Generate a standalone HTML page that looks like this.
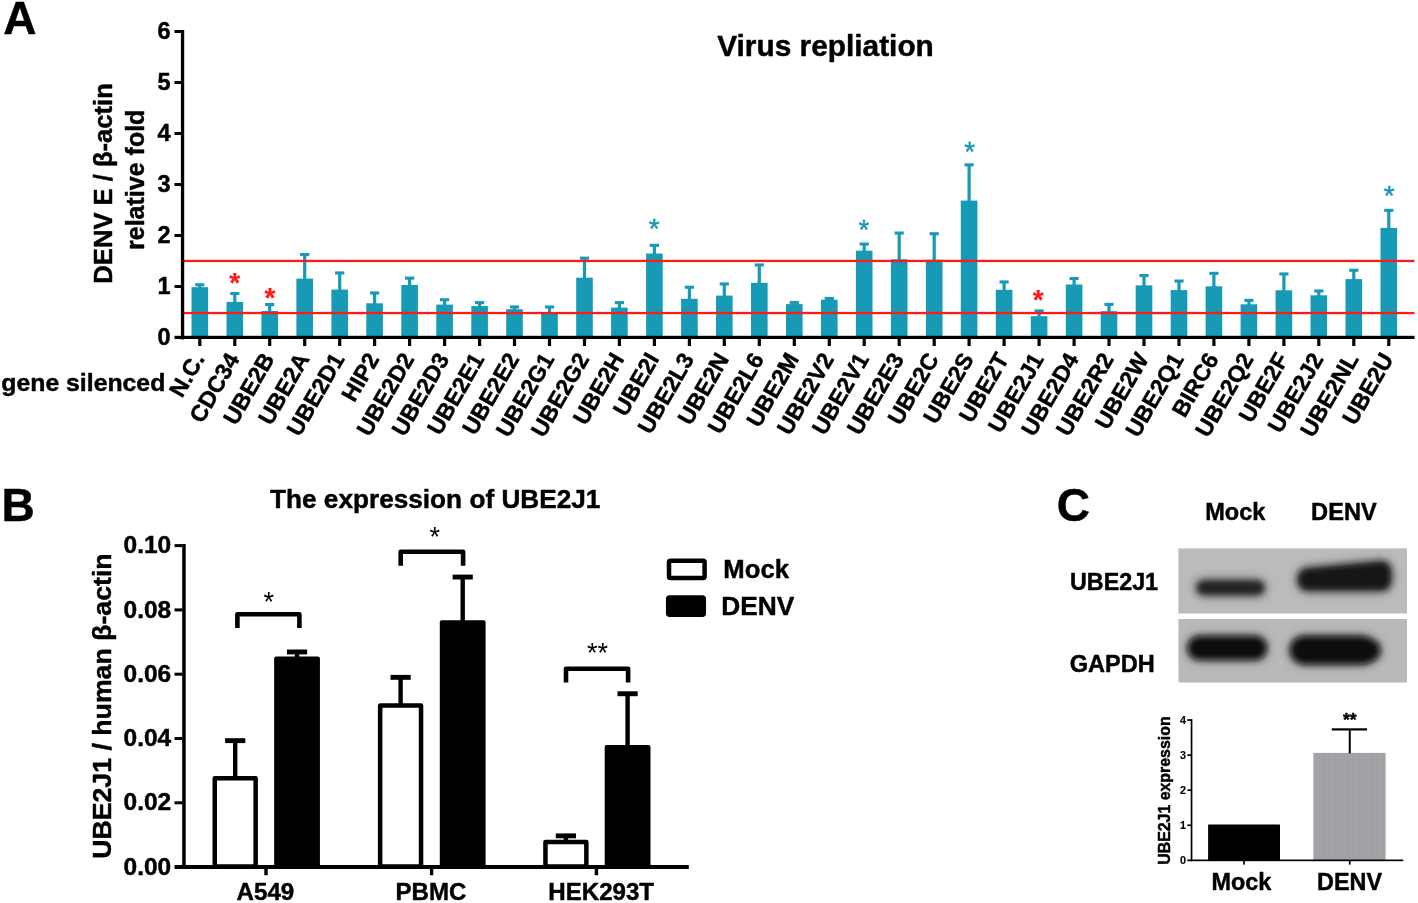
<!DOCTYPE html>
<html lang="en"><head><meta charset="utf-8"><title>Figure</title>
<style>html,body{margin:0;padding:0;background:#fff}svg{display:block}text{font-family:"Liberation Sans", Arial, Helvetica, sans-serif;fill:#000}.b{font-weight:700;stroke:#000;stroke-width:.45px;stroke-linejoin:round}</style>
</head><body>
<svg width="1418" height="903" viewBox="0 0 1418 903">
<defs>
<filter id="blC" filterUnits="userSpaceOnUse" x="1150" y="530" width="280" height="170"><feGaussianBlur stdDeviation="3"/></filter>
<filter id="blH" filterUnits="userSpaceOnUse" x="1150" y="530" width="280" height="170"><feGaussianBlur stdDeviation="6"/></filter>
<pattern id="hat" x="1313.4" y="0" width="2.4" height="4" patternUnits="userSpaceOnUse"><rect width="2.4" height="4" fill="#a8a8ac"/><rect width="1.2" height="4" fill="#9c9ca0"/></pattern>
<clipPath id="c1"><rect x="1178.4" y="548.4" width="228.6" height="65.1"/></clipPath>
<clipPath id="c2"><rect x="1178.4" y="619" width="228.6" height="63.5"/></clipPath>
</defs>
<rect width="1418" height="903" fill="#fff"/>
<g id="panelA">
<text class="b" x="3.3" y="33.9" font-size="46">A</text>
<text class="b" x="825.5" y="56.2" font-size="29.85" text-anchor="middle">Virus repliation</text>
<text class="b" font-size="25.6" text-anchor="middle" transform="translate(112.4,183.4) rotate(-90)">DENV E / β-actin</text>
<text class="b" font-size="25" text-anchor="middle" transform="translate(143.6,179.8) rotate(-90)">relative fold</text>
<text class="b" x="1.3" y="390.6" font-size="24.8">gene silenced</text>
<g fill="#169ab5">
<rect x="191.5" y="287.2" width="16.6" height="50.4"/>
<rect x="198.2" y="284.2" width="3.2" height="4.0"/>
<rect x="195.2" y="283.2" width="9.2" height="3.1"/>
<rect x="226.5" y="301.9" width="16.6" height="35.7"/>
<rect x="233.2" y="293.0" width="3.2" height="9.9"/>
<rect x="230.2" y="292.0" width="9.2" height="3.1"/>
<rect x="261.4" y="311.0" width="16.6" height="26.6"/>
<rect x="268.1" y="304.0" width="3.2" height="8.0"/>
<rect x="265.1" y="303.0" width="9.2" height="3.1"/>
<rect x="296.4" y="278.6" width="16.6" height="59.0"/>
<rect x="303.1" y="254.0" width="3.2" height="25.6"/>
<rect x="300.1" y="253.0" width="9.2" height="3.1"/>
<rect x="331.4" y="289.6" width="16.6" height="48.0"/>
<rect x="338.1" y="272.4" width="3.2" height="18.2"/>
<rect x="335.1" y="271.4" width="9.2" height="3.1"/>
<rect x="366.3" y="303.3" width="16.6" height="34.3"/>
<rect x="373.0" y="292.4" width="3.2" height="11.9"/>
<rect x="370.0" y="291.4" width="9.2" height="3.1"/>
<rect x="401.3" y="285.0" width="16.6" height="52.6"/>
<rect x="408.0" y="277.6" width="3.2" height="8.4"/>
<rect x="405.0" y="276.6" width="9.2" height="3.1"/>
<rect x="436.3" y="304.6" width="16.6" height="33.0"/>
<rect x="443.0" y="299.2" width="3.2" height="6.4"/>
<rect x="440.0" y="298.2" width="9.2" height="3.1"/>
<rect x="471.3" y="306.1" width="16.6" height="31.5"/>
<rect x="478.0" y="302.1" width="3.2" height="5.0"/>
<rect x="475.0" y="301.1" width="9.2" height="3.1"/>
<rect x="506.2" y="309.2" width="16.6" height="28.4"/>
<rect x="512.9" y="306.4" width="3.2" height="3.8"/>
<rect x="509.9" y="305.4" width="9.2" height="3.1"/>
<rect x="541.2" y="312.0" width="16.6" height="25.6"/>
<rect x="547.9" y="306.4" width="3.2" height="6.6"/>
<rect x="544.9" y="305.4" width="9.2" height="3.1"/>
<rect x="576.2" y="277.7" width="16.6" height="59.9"/>
<rect x="582.9" y="257.6" width="3.2" height="21.1"/>
<rect x="579.9" y="256.6" width="9.2" height="3.1"/>
<rect x="611.1" y="307.6" width="16.6" height="30.0"/>
<rect x="617.8" y="302.1" width="3.2" height="6.5"/>
<rect x="614.8" y="301.1" width="9.2" height="3.1"/>
<rect x="646.1" y="253.5" width="16.6" height="84.1"/>
<rect x="652.8" y="244.8" width="3.2" height="9.7"/>
<rect x="649.8" y="243.8" width="9.2" height="3.1"/>
<rect x="681.1" y="298.8" width="16.6" height="38.8"/>
<rect x="687.8" y="286.7" width="3.2" height="13.1"/>
<rect x="684.8" y="285.7" width="9.2" height="3.1"/>
<rect x="716.0" y="295.6" width="16.6" height="42.0"/>
<rect x="722.7" y="283.4" width="3.2" height="13.2"/>
<rect x="719.7" y="282.4" width="9.2" height="3.1"/>
<rect x="751.0" y="282.8" width="16.6" height="54.8"/>
<rect x="757.7" y="264.4" width="3.2" height="19.4"/>
<rect x="754.7" y="263.4" width="9.2" height="3.1"/>
<rect x="786.0" y="304.1" width="16.6" height="33.5"/>
<rect x="792.7" y="302.0" width="3.2" height="3.1"/>
<rect x="789.7" y="301.0" width="9.2" height="3.1"/>
<rect x="821.0" y="299.7" width="16.6" height="37.9"/>
<rect x="827.7" y="297.9" width="3.2" height="2.8"/>
<rect x="824.7" y="296.9" width="9.2" height="3.1"/>
<rect x="855.9" y="250.7" width="16.6" height="86.9"/>
<rect x="862.6" y="243.5" width="3.2" height="8.2"/>
<rect x="859.6" y="242.5" width="9.2" height="3.1"/>
<rect x="890.9" y="259.3" width="16.6" height="78.3"/>
<rect x="897.6" y="232.5" width="3.2" height="27.8"/>
<rect x="894.6" y="231.5" width="9.2" height="3.1"/>
<rect x="925.9" y="259.7" width="16.6" height="77.9"/>
<rect x="932.6" y="233.2" width="3.2" height="27.5"/>
<rect x="929.6" y="232.2" width="9.2" height="3.1"/>
<rect x="960.8" y="200.6" width="16.6" height="137.0"/>
<rect x="967.5" y="164.3" width="3.2" height="37.3"/>
<rect x="964.5" y="163.3" width="9.2" height="3.1"/>
<rect x="995.8" y="289.8" width="16.6" height="47.8"/>
<rect x="1002.5" y="281.4" width="3.2" height="9.4"/>
<rect x="999.5" y="280.4" width="9.2" height="3.1"/>
<rect x="1030.8" y="316.2" width="16.6" height="21.4"/>
<rect x="1037.5" y="310.4" width="3.2" height="6.8"/>
<rect x="1034.5" y="309.4" width="9.2" height="3.1"/>
<rect x="1065.8" y="284.5" width="16.6" height="53.1"/>
<rect x="1072.5" y="278.0" width="3.2" height="7.5"/>
<rect x="1069.5" y="277.0" width="9.2" height="3.1"/>
<rect x="1100.7" y="311.2" width="16.6" height="26.4"/>
<rect x="1107.4" y="303.8" width="3.2" height="8.4"/>
<rect x="1104.4" y="302.8" width="9.2" height="3.1"/>
<rect x="1135.7" y="285.4" width="16.6" height="52.2"/>
<rect x="1142.4" y="275.0" width="3.2" height="11.4"/>
<rect x="1139.4" y="274.0" width="9.2" height="3.1"/>
<rect x="1170.7" y="290.1" width="16.6" height="47.5"/>
<rect x="1177.4" y="280.5" width="3.2" height="10.6"/>
<rect x="1174.4" y="279.5" width="9.2" height="3.1"/>
<rect x="1205.6" y="286.3" width="16.6" height="51.3"/>
<rect x="1212.3" y="272.8" width="3.2" height="14.5"/>
<rect x="1209.3" y="271.8" width="9.2" height="3.1"/>
<rect x="1240.6" y="304.3" width="16.6" height="33.3"/>
<rect x="1247.3" y="299.8" width="3.2" height="5.5"/>
<rect x="1244.3" y="298.8" width="9.2" height="3.1"/>
<rect x="1275.6" y="290.3" width="16.6" height="47.3"/>
<rect x="1282.3" y="273.4" width="3.2" height="17.9"/>
<rect x="1279.3" y="272.4" width="9.2" height="3.1"/>
<rect x="1310.5" y="295.3" width="16.6" height="42.3"/>
<rect x="1317.2" y="290.4" width="3.2" height="5.9"/>
<rect x="1314.2" y="289.4" width="9.2" height="3.1"/>
<rect x="1345.5" y="279.1" width="16.6" height="58.5"/>
<rect x="1352.2" y="269.7" width="3.2" height="10.4"/>
<rect x="1349.2" y="268.7" width="9.2" height="3.1"/>
<rect x="1380.5" y="227.9" width="16.6" height="109.7"/>
<rect x="1387.2" y="209.8" width="3.2" height="19.1"/>
<rect x="1384.2" y="208.8" width="9.2" height="3.1"/>
</g>
<rect x="182.5" y="259.8" width="1232.0" height="2.3" fill="#ff1a1a"/>
<rect x="182.5" y="311.9" width="1232.0" height="2.3" fill="#ff1a1a"/>
<g fill="#000">
<rect x="180.9" y="30" width="3.3" height="309.4"/>
<rect x="174.5" y="335.8" width="1240" height="3.2"/>
<rect x="174.5" y="285.0" width="7" height="3"/>
<rect x="174.5" y="234.0" width="7" height="3"/>
<rect x="174.5" y="183.0" width="7" height="3"/>
<rect x="174.5" y="132.0" width="7" height="3"/>
<rect x="174.5" y="81.0" width="7" height="3"/>
<rect x="174.5" y="30.0" width="7" height="3"/>
<rect x="198.2" y="338" width="3.2" height="8"/>
<rect x="233.2" y="338" width="3.2" height="8"/>
<rect x="268.1" y="338" width="3.2" height="8"/>
<rect x="303.1" y="338" width="3.2" height="8"/>
<rect x="338.1" y="338" width="3.2" height="8"/>
<rect x="373.0" y="338" width="3.2" height="8"/>
<rect x="408.0" y="338" width="3.2" height="8"/>
<rect x="443.0" y="338" width="3.2" height="8"/>
<rect x="478.0" y="338" width="3.2" height="8"/>
<rect x="512.9" y="338" width="3.2" height="8"/>
<rect x="547.9" y="338" width="3.2" height="8"/>
<rect x="582.9" y="338" width="3.2" height="8"/>
<rect x="617.8" y="338" width="3.2" height="8"/>
<rect x="652.8" y="338" width="3.2" height="8"/>
<rect x="687.8" y="338" width="3.2" height="8"/>
<rect x="722.7" y="338" width="3.2" height="8"/>
<rect x="757.7" y="338" width="3.2" height="8"/>
<rect x="792.7" y="338" width="3.2" height="8"/>
<rect x="827.7" y="338" width="3.2" height="8"/>
<rect x="862.6" y="338" width="3.2" height="8"/>
<rect x="897.6" y="338" width="3.2" height="8"/>
<rect x="932.6" y="338" width="3.2" height="8"/>
<rect x="967.5" y="338" width="3.2" height="8"/>
<rect x="1002.5" y="338" width="3.2" height="8"/>
<rect x="1037.5" y="338" width="3.2" height="8"/>
<rect x="1072.5" y="338" width="3.2" height="8"/>
<rect x="1107.4" y="338" width="3.2" height="8"/>
<rect x="1142.4" y="338" width="3.2" height="8"/>
<rect x="1177.4" y="338" width="3.2" height="8"/>
<rect x="1212.3" y="338" width="3.2" height="8"/>
<rect x="1247.3" y="338" width="3.2" height="8"/>
<rect x="1282.3" y="338" width="3.2" height="8"/>
<rect x="1317.2" y="338" width="3.2" height="8"/>
<rect x="1352.2" y="338" width="3.2" height="8"/>
<rect x="1387.2" y="338" width="3.2" height="8"/>
</g>
<text class="b" x="170.6" y="345.0" font-size="23.5" text-anchor="end">0</text>
<text class="b" x="170.6" y="294.0" font-size="23.5" text-anchor="end">1</text>
<text class="b" x="170.6" y="243.0" font-size="23.5" text-anchor="end">2</text>
<text class="b" x="170.6" y="192.0" font-size="23.5" text-anchor="end">3</text>
<text class="b" x="170.6" y="141.0" font-size="23.5" text-anchor="end">4</text>
<text class="b" x="170.6" y="90.0" font-size="23.5" text-anchor="end">5</text>
<text class="b" x="170.6" y="39.0" font-size="23.5" text-anchor="end">6</text>
<text class="b" font-size="23.1" text-anchor="end" transform="translate(205.2,358.8) rotate(-60)">N.C.</text>
<text class="b" font-size="23.1" text-anchor="end" transform="translate(240.2,358.8) rotate(-60)">CDC34</text>
<text class="b" font-size="23.1" text-anchor="end" transform="translate(275.1,358.8) rotate(-60)">UBE2B</text>
<text class="b" font-size="23.1" text-anchor="end" transform="translate(310.1,358.8) rotate(-60)">UBE2A</text>
<text class="b" font-size="23.1" text-anchor="end" transform="translate(345.1,358.8) rotate(-60)">UBE2D1</text>
<text class="b" font-size="23.1" text-anchor="end" transform="translate(380.0,358.8) rotate(-60)">HIP2</text>
<text class="b" font-size="23.1" text-anchor="end" transform="translate(415.0,358.8) rotate(-60)">UBE2D2</text>
<text class="b" font-size="23.1" text-anchor="end" transform="translate(450.0,358.8) rotate(-60)">UBE2D3</text>
<text class="b" font-size="23.1" text-anchor="end" transform="translate(485.0,358.8) rotate(-60)">UBE2E1</text>
<text class="b" font-size="23.1" text-anchor="end" transform="translate(519.9,358.8) rotate(-60)">UBE2E2</text>
<text class="b" font-size="23.1" text-anchor="end" transform="translate(554.9,358.8) rotate(-60)">UBE2G1</text>
<text class="b" font-size="23.1" text-anchor="end" transform="translate(589.9,358.8) rotate(-60)">UBE2G2</text>
<text class="b" font-size="23.1" text-anchor="end" transform="translate(624.8,358.8) rotate(-60)">UBE2H</text>
<text class="b" font-size="23.1" text-anchor="end" transform="translate(659.8,358.8) rotate(-60)">UBE2I</text>
<text class="b" font-size="23.1" text-anchor="end" transform="translate(694.8,358.8) rotate(-60)">UBE2L3</text>
<text class="b" font-size="23.1" text-anchor="end" transform="translate(729.7,358.8) rotate(-60)">UBE2N</text>
<text class="b" font-size="23.1" text-anchor="end" transform="translate(764.7,358.8) rotate(-60)">UBE2L6</text>
<text class="b" font-size="23.1" text-anchor="end" transform="translate(799.7,358.8) rotate(-60)">UBE2M</text>
<text class="b" font-size="23.1" text-anchor="end" transform="translate(834.7,358.8) rotate(-60)">UBE2V2</text>
<text class="b" font-size="23.1" text-anchor="end" transform="translate(869.6,358.8) rotate(-60)">UBE2V1</text>
<text class="b" font-size="23.1" text-anchor="end" transform="translate(904.6,358.8) rotate(-60)">UBE2E3</text>
<text class="b" font-size="23.1" text-anchor="end" transform="translate(939.6,358.8) rotate(-60)">UBE2C</text>
<text class="b" font-size="23.1" text-anchor="end" transform="translate(974.5,358.8) rotate(-60)">UBE2S</text>
<text class="b" font-size="23.1" text-anchor="end" transform="translate(1009.5,358.8) rotate(-60)">UBE2T</text>
<text class="b" font-size="23.1" text-anchor="end" transform="translate(1044.5,358.8) rotate(-60)">UBE2J1</text>
<text class="b" font-size="23.1" text-anchor="end" transform="translate(1079.5,358.8) rotate(-60)">UBE2D4</text>
<text class="b" font-size="23.1" text-anchor="end" transform="translate(1114.4,358.8) rotate(-60)">UBE2R2</text>
<text class="b" font-size="23.1" text-anchor="end" transform="translate(1149.4,358.8) rotate(-60)">UBE2W</text>
<text class="b" font-size="23.1" text-anchor="end" transform="translate(1184.4,358.8) rotate(-60)">UBE2Q1</text>
<text class="b" font-size="23.1" text-anchor="end" transform="translate(1219.3,358.8) rotate(-60)">BIRC6</text>
<text class="b" font-size="23.1" text-anchor="end" transform="translate(1254.3,358.8) rotate(-60)">UBE2Q2</text>
<text class="b" font-size="23.1" text-anchor="end" transform="translate(1289.3,358.8) rotate(-60)">UBE2F</text>
<text class="b" font-size="23.1" text-anchor="end" transform="translate(1324.2,358.8) rotate(-60)">UBE2J2</text>
<text class="b" font-size="23.1" text-anchor="end" transform="translate(1359.2,358.8) rotate(-60)">UBE2NL</text>
<text class="b" font-size="23.1" text-anchor="end" transform="translate(1394.2,358.8) rotate(-60)">UBE2U</text>
<text class="b" x="234.6" y="292.0" font-size="28" text-anchor="middle" style="fill:#ff1a1a;stroke:#ff1a1a;stroke-width:.2px">*</text>
<text class="b" x="269.9" y="307.3" font-size="28" text-anchor="middle" style="fill:#ff1a1a;stroke:#ff1a1a;stroke-width:.2px">*</text>
<text class="b" x="1038.3" y="309.2" font-size="28" text-anchor="middle" style="fill:#ff1a1a;stroke:#ff1a1a;stroke-width:.2px">*</text>
<text x="654.3" y="238.0" font-size="28" text-anchor="middle" style="fill:#169ab5;stroke:#169ab5;stroke-width:.45px">*</text>
<text x="863.9" y="239.3" font-size="28" text-anchor="middle" style="fill:#169ab5;stroke:#169ab5;stroke-width:.45px">*</text>
<text x="969.6" y="161.3" font-size="28" text-anchor="middle" style="fill:#169ab5;stroke:#169ab5;stroke-width:.45px">*</text>
<text x="1389.1" y="205.2" font-size="28" text-anchor="middle" style="fill:#169ab5;stroke:#169ab5;stroke-width:.45px">*</text>
</g>
<g id="panelB">
<text class="b" x="1.4" y="520.9" font-size="46">B</text>
<text class="b" x="435.2" y="507.5" font-size="26.2" text-anchor="middle">The expression of UBE2J1</text>
<text class="b" font-size="26.7" text-anchor="middle" transform="translate(111.0,706.1) rotate(-90)">UBE2J1 / human β-actin</text>
<text class="b" x="171.2" y="874.7" font-size="24.5" text-anchor="end">0.00</text>
<text class="b" x="171.2" y="810.4" font-size="24.5" text-anchor="end">0.02</text>
<text class="b" x="171.2" y="746.1" font-size="24.5" text-anchor="end">0.04</text>
<text class="b" x="171.2" y="681.8" font-size="24.5" text-anchor="end">0.06</text>
<text class="b" x="171.2" y="617.5" font-size="24.5" text-anchor="end">0.08</text>
<text class="b" x="171.2" y="553.2" font-size="24.5" text-anchor="end">0.10</text>
<rect x="233.00" y="739.20" width="4.4" height="37.90" fill="#000"/>
<rect x="225.10" y="738.20" width="20.2" height="4.9" fill="#000"/>
<rect x="214.75" y="778.35" width="40.90" height="88.05" fill="#fff" stroke="#000" stroke-width="4.5" stroke-linejoin="round"/>
<rect x="294.85" y="650.50" width="4.4" height="7.10" fill="#000"/>
<rect x="286.95" y="649.50" width="20.2" height="4.9" fill="#000"/>
<path d="M274.15 867.00 V658.60 Q274.15 656.60 276.15 656.60 H317.95 Q319.95 656.60 319.95 658.60 V867.00 Z" fill="#000"/>
<rect x="398.40" y="675.90" width="4.4" height="28.40" fill="#000"/>
<rect x="390.50" y="674.90" width="20.2" height="4.9" fill="#000"/>
<rect x="380.15" y="705.55" width="40.90" height="160.85" fill="#fff" stroke="#000" stroke-width="4.5" stroke-linejoin="round"/>
<rect x="460.50" y="575.60" width="4.4" height="45.70" fill="#000"/>
<rect x="452.60" y="574.60" width="20.2" height="4.9" fill="#000"/>
<path d="M439.80 867.00 V622.30 Q439.80 620.30 441.80 620.30 H483.60 Q485.60 620.30 485.60 622.30 V867.00 Z" fill="#000"/>
<rect x="563.70" y="834.40" width="4.4" height="6.40" fill="#000"/>
<rect x="555.80" y="833.40" width="20.2" height="4.9" fill="#000"/>
<rect x="545.45" y="842.05" width="40.90" height="24.35" fill="#fff" stroke="#000" stroke-width="4.5" stroke-linejoin="round"/>
<rect x="625.40" y="692.30" width="4.4" height="53.70" fill="#000"/>
<rect x="617.50" y="691.30" width="20.2" height="4.9" fill="#000"/>
<path d="M604.70 867.00 V747.00 Q604.70 745.00 606.70 745.00 H648.50 Q650.50 745.00 650.50 747.00 V867.00 Z" fill="#000"/>
<g fill="#000">
<rect x="182.2" y="544" width="3.5" height="325"/>
<rect x="174.5" y="865" width="514.3" height="4"/>
<rect x="174.5" y="801.3" width="8" height="3"/>
<rect x="174.5" y="737.0" width="8" height="3"/>
<rect x="174.5" y="672.7" width="8" height="3"/>
<rect x="174.5" y="608.4" width="8" height="3"/>
<rect x="174.5" y="544.1" width="8" height="3"/>
<rect x="264.3" y="867" width="3.4" height="8.2"/>
<rect x="429.9" y="867" width="3.4" height="8.2"/>
<rect x="594.7" y="867" width="3.4" height="8.2"/>
</g>
<text class="b" x="265.4" y="900" font-size="24.1" text-anchor="middle">A549</text>
<text class="b" x="431.0" y="900" font-size="24.1" text-anchor="middle">PBMC</text>
<text class="b" x="601.2" y="900" font-size="24.1" text-anchor="middle">HEK293T</text>
<path d="M237.4 627.9 V614.2 H299.4 V627.9" fill="none" stroke="#000" stroke-width="4.6" stroke-linejoin="round"/>
<path d="M400.7 565.7 V551.7 H463.1 V565.7" fill="none" stroke="#000" stroke-width="4.6" stroke-linejoin="round"/>
<path d="M566.0 682.5 V668.8 H628.1 V682.5" fill="none" stroke="#000" stroke-width="4.6" stroke-linejoin="round"/>
<text x="268.8" y="610.7" font-size="27" text-anchor="middle">*</text>
<text x="434.8" y="546.4" font-size="27" text-anchor="middle">*</text>
<text x="597.4" y="662.2" font-size="27" text-anchor="middle">**</text>
<rect x="669" y="560.8" width="35.6" height="17.2" rx="1.5" fill="#fff" stroke="#000" stroke-width="4.5" stroke-linejoin="round"/>
<rect x="668.2" y="597.6" width="35.6" height="17.2" rx="1.5" fill="#000" stroke="#000" stroke-width="4.5" stroke-linejoin="round"/>
<text class="b" x="723.3" y="578.4" font-size="25.7">Mock</text>
<text class="b" x="721.3" y="615.2" font-size="26.3">DENV</text>
</g>
<g id="panelC">
<text class="b" x="1056.7" y="520.9" font-size="46">C</text>
<text class="b" x="1235.3" y="519.8" font-size="23.5" text-anchor="middle">Mock</text>
<text class="b" x="1343.9" y="519.8" font-size="23.6" text-anchor="middle">DENV</text>
<text class="b" x="1070" y="589.9" font-size="23.3">UBE2J1</text>
<text class="b" x="1069.8" y="671.6" font-size="23.5">GAPDH</text>
<rect x="1178.4" y="548.4" width="228.6" height="65.1" fill="#bbbbbb"/>
<rect x="1178.4" y="619" width="228.6" height="63.5" fill="#b9b9b9"/>
<g clip-path="url(#c1)">
<g filter="url(#blH)" opacity="0.55"><rect x="1196.5" y="580.5" width="68" height="14.5" rx="7.2" fill="#202020"/></g>
<g filter="url(#blC)"><rect x="1196.5" y="580.5" width="68" height="14.5" rx="7.2" fill="#202020"/></g>
<g filter="url(#blH)" opacity="0.55"><path d="M1307 581.5 V577.5 L1382 570.5 V581.5 Z" fill="#141414" stroke="#141414" stroke-width="18" stroke-linejoin="round"/></g>
<g filter="url(#blC)"><path d="M1307 581.5 V577.5 L1382 570.5 V581.5 Z" fill="#141414" stroke="#141414" stroke-width="18" stroke-linejoin="round"/></g>
</g>
<g clip-path="url(#c2)">
<g filter="url(#blH)" opacity="0.55"><rect x="1188" y="636.5" width="78.5" height="23" rx="11.5" fill="#0e0e0e"/></g>
<g filter="url(#blC)"><rect x="1188" y="636.5" width="78.5" height="23" rx="11.5" fill="#0e0e0e"/></g>
<g filter="url(#blH)" opacity="0.55"><path d="M1303 636.5 H1362 Q1380 640 1380 650 Q1380 661 1362 664 H1303 Q1290.5 661 1290.5 650 Q1290.5 639 1303 636.5 Z" fill="#0c0c0c"/></g>
<g filter="url(#blC)"><path d="M1303 636.5 H1362 Q1380 640 1380 650 Q1380 661 1362 664 H1303 Q1290.5 661 1290.5 650 Q1290.5 639 1303 636.5 Z" fill="#0c0c0c"/></g>
</g>
<rect x="1208.1" y="824.6" width="71.9" height="36" rx="0.6" fill="#000"/>
<rect x="1313.4" y="752.9" width="72.2" height="107.6" fill="url(#hat)"/>
<g fill="#000">
<rect x="1348.75" y="729.2" width="2" height="24.2"/>
<rect x="1331.8" y="728.3" width="35.2" height="2.2"/>
<rect x="1190.7" y="719.2" width="1.7" height="142"/>
<rect x="1187.3" y="859.5" width="215.9" height="1.7"/>
<rect x="1187.3" y="824.42" width="4" height="1.7"/>
<rect x="1187.3" y="789.34" width="4" height="1.7"/>
<rect x="1187.3" y="754.26" width="4" height="1.7"/>
<rect x="1187.3" y="719.18" width="4" height="1.7"/>
<rect x="1243.20" y="860.3" width="1.7" height="4.3"/>
<rect x="1348.90" y="860.3" width="1.7" height="4.3"/>
</g>
<text class="b" x="1186" y="864.0" font-size="10.8" text-anchor="end" style="stroke-width:.15px">0</text>
<text class="b" x="1186" y="828.9" font-size="10.8" text-anchor="end" style="stroke-width:.15px">1</text>
<text class="b" x="1186" y="793.8" font-size="10.8" text-anchor="end" style="stroke-width:.15px">2</text>
<text class="b" x="1186" y="758.7" font-size="10.8" text-anchor="end" style="stroke-width:.15px">3</text>
<text class="b" x="1186" y="723.6" font-size="10.8" text-anchor="end" style="stroke-width:.15px">4</text>
<text class="b" font-size="15.9" text-anchor="middle" transform="translate(1170.2,790.6) rotate(-90) scale(1,1.07)">UBE2J1 expression</text>
<text class="b" x="1349.7" y="726.3" font-size="17.5" text-anchor="middle">**</text>
<text class="b" x="1241.3" y="890" font-size="23.4" text-anchor="middle">Mock</text>
<text class="b" x="1349.6" y="890" font-size="23.4" text-anchor="middle">DENV</text>
</g>
</svg></body></html>
